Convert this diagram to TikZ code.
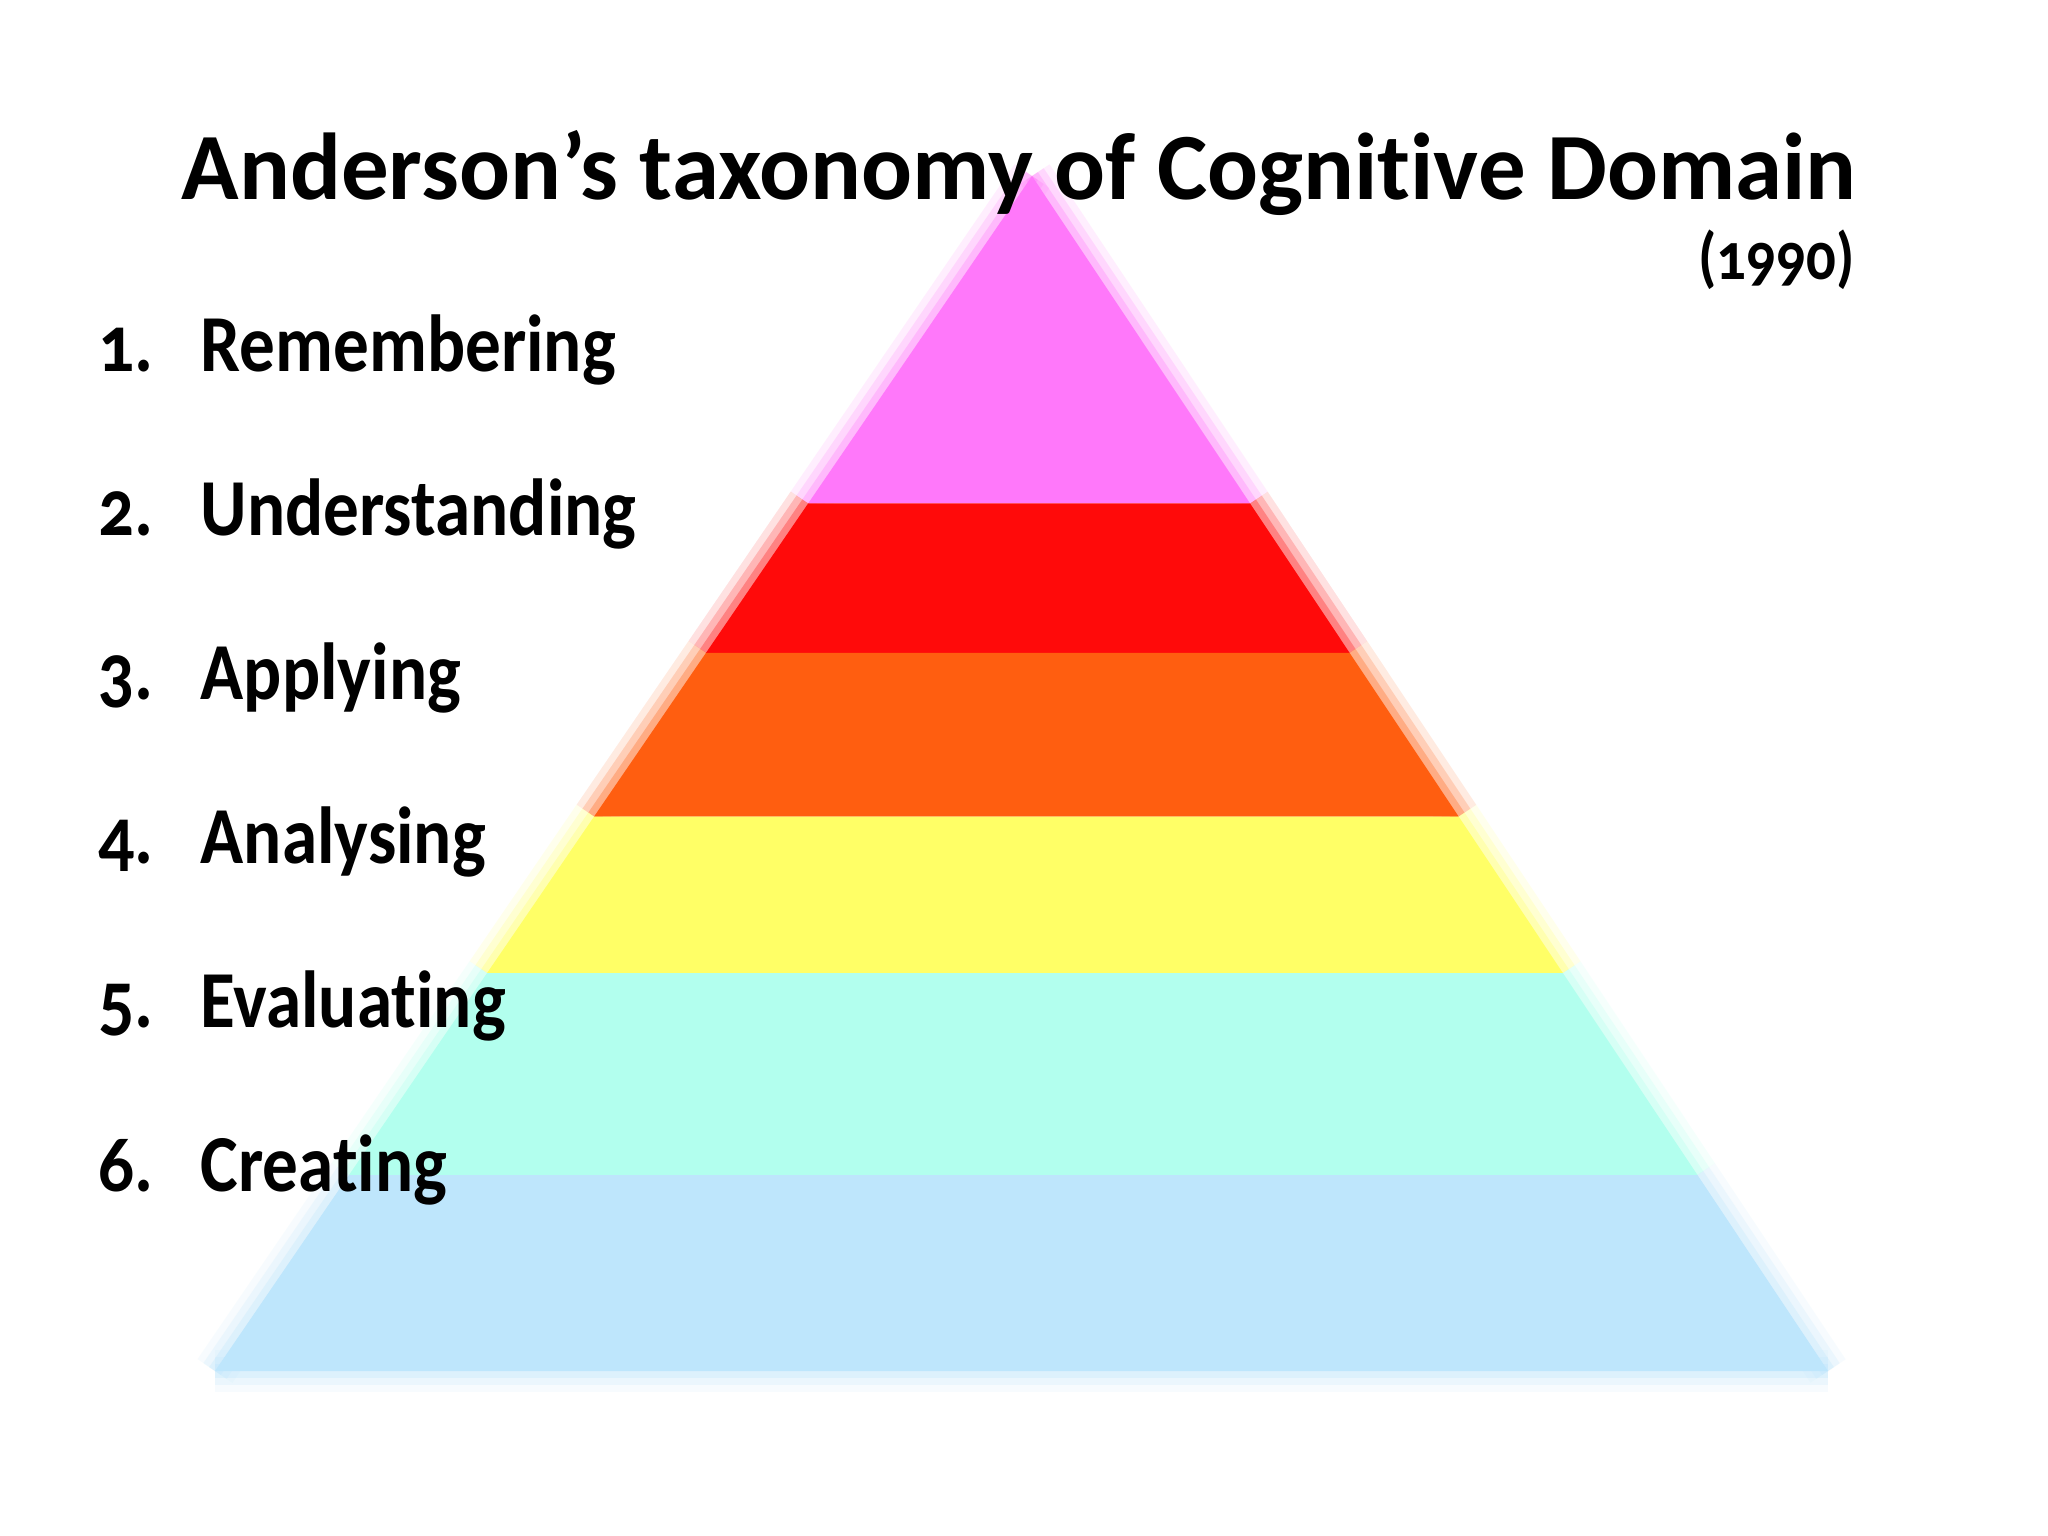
\documentclass[tikz,border=0pt]{standalone}
\usepackage{fontspec}
\setmainfont{Carlito}[Numbers=OldStyle,Ligatures=CommonOff]
\newfontfamily\listfont{Carlito}[Numbers=OldStyle,Ligatures=CommonOff,FakeStretch=0.88]
\usetikzlibrary{positioning,calc}
\definecolor{lvpink}{HTML}{FF78FA}
\definecolor{lvred}{HTML}{FF0A0A}
\definecolor{lvorange}{HTML}{FF5E10}
\definecolor{lvyellow}{HTML}{FFFF66}
\definecolor{lvcyan}{HTML}{B2FFEE}
\definecolor{lvblue}{HTML}{BEE6FC}

\begin{document}
\begin{tikzpicture}[x=0.01cm,y=-0.01cm,
  item/.style={anchor=base west,inner sep=0pt,font=\listfont\fontsize{23}{28}\selectfont\bfseries},
  num/.style={anchor=base west,inner sep=0pt,font=\listfont\fontsize{23}{28}\selectfont\bfseries}]
\useasboundingbox[fill=white] (0,0) rectangle (2048,1536);

% Pyramid corners
\coordinate (apex) at (1032,176);
\coordinate (bl) at (215,1371);
\coordinate (br) at (1828,1371);

% Soft edge along the sides of the bands
\foreach \ta/\tb/\col in {0/0.274/lvpink, 0.274/0.399/lvred, 0.399/0.536/lvorange,
                          0.536/0.667/lvyellow, 0.667/0.836/lvcyan, 0.836/1/lvblue} {
  \foreach \w/\o in {12/0.12, 8/0.2, 4/0.3} {
    \draw[\col,line width=\w pt,opacity=\o] ($(apex)!\ta!(bl)$) -- ($(apex)!\tb!(bl)$);
    \draw[\col,line width=\w pt,opacity=\o] ($(apex)!\ta!(br)$) -- ($(apex)!\tb!(br)$);
  }
}
\foreach \w/\o in {12/0.12, 8/0.2, 4/0.3}
  \draw[lvblue,line width=\w pt,opacity=\o] (bl) -- (br);

% Bands
\foreach \ta/\tb/\col in {0/0.274/lvpink, 0.274/0.399/lvred, 0.399/0.536/lvorange,
                          0.536/0.667/lvyellow, 0.667/0.836/lvcyan, 0.836/1/lvblue} {
  \fill[\col] ($(apex)!\ta!(bl)$) -- ($(apex)!\tb!(bl)$) -- ($(apex)!\tb!(br)$) -- ($(apex)!\ta!(br)$) -- cycle;
}

% Title
\node[anchor=base,inner sep=0pt,font=\fontsize{27}{32}\selectfont\bfseries] (title) at (1019,199)
  {Anderson’s taxonomy of Cognitive Domain};
\node[anchor=base east,inner sep=0pt,font=\listfont\fontsize{19}{23}\selectfont\bfseries] (year) at (1855,279) {(1990)};

% Levels
\foreach \i/\lvl in {1/Remembering, 2/Understanding, 3/Applying, 4/Analysing, 5/Evaluating, 6/Creating} {
  \node[num] (n\i) at (98,{371+164*(\i-1)}) {\i.};
  \node[item] (l\i) at (200,{371+164*(\i-1)}) {\lvl};
}

\end{tikzpicture}
\end{document}
